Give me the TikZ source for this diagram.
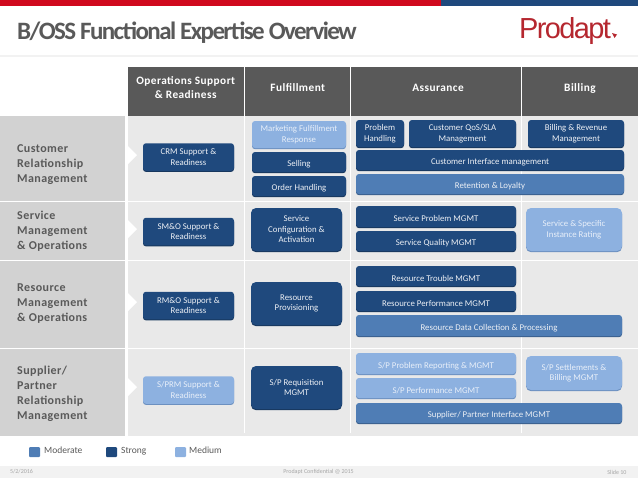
\documentclass[tikz,border=0pt]{standalone}
\usepackage{fontspec}
\setmainfont{Carlito}
\newfontfamily\logofont{Liberation Sans}
\usetikzlibrary{shadows}
\definecolor{headgray}{HTML}{595959}
\definecolor{sidegray}{HTML}{D2D2D2}
\definecolor{panelgray}{HTML}{E9E9E9}
\definecolor{strongblue}{HTML}{1F497D}
\definecolor{strongedge}{HTML}{17375E}
\definecolor{moderateblue}{HTML}{4F7DB5}
\definecolor{moderateedge}{HTML}{3A5F8C}
\definecolor{mediumblue}{HTML}{8DB1E0}
\definecolor{mediumedge}{HTML}{6C90C0}
\definecolor{logored}{HTML}{B5272F}
\definecolor{barred}{HTML}{D0091E}
\tikzset{
  boxbase/.style={shape=rectangle,rounded corners=3pt,align=center,inner sep=0pt,
    font=\fontsize{8.8}{10.5}\selectfont,text=white!92!strongblue,
    execute at begin node={\rule{0pt}{11pt}}},
  strongbox/.style={boxbase,fill=strongblue,
    copy shadow={shadow xshift=0pt,shadow yshift=-1.2pt,fill=strongedge,draw=none}},
  moderatebox/.style={boxbase,fill=moderateblue,
    copy shadow={shadow xshift=0pt,shadow yshift=-1.2pt,fill=moderateedge,draw=none}},
  mediumbox/.style={boxbase,fill=mediumblue,text=white!80!mediumblue,
    copy shadow={shadow xshift=0pt,shadow yshift=-1.2pt,fill=mediumedge,draw=none}},
  headlabel/.style={text=white,align=center,inner sep=0pt,
    font=\fontsize{11.3}{14.8}\selectfont\bfseries\addfontfeature{LetterSpace=4}},
  sidelabel/.style={anchor=west,align=left,inner sep=0pt,text=headgray,
    font=\fontsize{12}{15}\selectfont\bfseries\addfontfeature{LetterSpace=3.5}},
  legendswatch/.style={shape=rectangle,rounded corners=1pt,minimum width=11pt,minimum height=10pt,inner sep=0pt},
  legendlabel/.style={anchor=base west,inner sep=0pt,text=headgray,font=\fontsize{9.5}{11}\selectfont},
  footlabel/.style={inner sep=0pt,text=gray!70,font=\fontsize{6}{7}\selectfont}
}

\begin{document}
\begin{tikzpicture}[x=1pt,y=-1pt]
    \useasboundingbox (0,0) rectangle (638,479);

    % top bar and title
    \fill[barred] (0,0) rectangle (441,6);
    \fill[strongblue] (441,0) rectangle (638,6);
    \fill[gray!10] (0,55) rectangle (638,57);
    \node[anchor=base west,inner sep=0pt,text=headgray,font=\fontsize{25}{30}\selectfont\bfseries\addfontfeature{LetterSpace=-6.4}] (title) at (17,39) {B/OSS Functional Expertise Overview};

    % logo
    \node[anchor=base west,inner sep=0pt,text=logored,font=\fontsize{29}{29}\logofont\addfontfeature{LetterSpace=-5.6}] (logo) at (519,38.3) {Prodapt};
    \fill[logored] (612,33) -- (617,34.5) -- (614.5,38) -- cycle;

    % panels
    \fill[sidegray] (0,116) rectangle (125,436);
    \fill[panelgray] (128,116) rectangle (638,436);
    \foreach \ypos in {201,260,348}
      \draw[white,thick] (0,\ypos) -- (638,\ypos);
    \foreach \xpos in {244.5,350.5,521.5}
      \draw[white,thick] (\xpos,116) -- (\xpos,433);
    \foreach \ypos in {155,229,302,387} {
      \fill[white] (125,\ypos-12) -- (137,\ypos) -- (125,\ypos+12) -- cycle;
    }

    % column heads
    \fill[headgray] (127.5,67) rectangle (244,116);
    \fill[headgray] (245,67) rectangle (350,116);
    \fill[headgray] (351,67) rectangle (521,116);
    \fill[headgray] (522,67) rectangle (638,116);
    \node[headlabel] (opshead) at (185.75,87.5) {Operations Support\\\& Readiness};
    \node[headlabel,anchor=base] (fulfilhead) at (297.75,91) {Fulfillment};
    \node[headlabel,anchor=base] (assurehead) at (438,91) {Assurance};
    \node[headlabel,anchor=base] (billhead) at (580,91) {Billing};

    % row labels
    \node[sidelabel] (custrow) at (17,165) {Customer\\Relationship\\Management};
    \node[sidelabel] (servrow) at (17,231) {Service\\Management\\\& Operations};
    \node[sidelabel] (resrow) at (17,304) {Resource\\Management\\\& Operations};
    \node[sidelabel] (supprow) at (17,394) {Supplier/\\Partner\\Relationship\\Management};

    % operations support column
    \node[strongbox,minimum width=91,minimum height=27.5] (crm) at (188.5,157) {CRM Support \&\\Readiness};
    \node[strongbox,minimum width=91,minimum height=27.5] (smo) at (188.5,231.5) {SM\&O Support \&\\Readiness};
    \node[strongbox,minimum width=91,minimum height=27.5] (rmo) at (188.5,305.5) {RM\&O Support \&\\Readiness};
    \node[mediumbox,minimum width=91,minimum height=27.5] (sprm) at (188.5,390) {S/PRM Support \&\\Readiness};

    % fulfillment column
    \node[mediumbox,minimum width=94,minimum height=27] (mktg) at (299,134.5) {Marketing Fulfillment\\Response};
    \node[strongbox,minimum width=94,minimum height=20] (selling) at (299,162) {Selling};
    \node[strongbox,minimum width=94,minimum height=20] (order) at (299,186) {Order Handling};
    \node[strongbox,minimum width=91,minimum height=43,rounded corners=5pt] (config) at (296.5,229.5) {Service\\Configuration \&\\Activation};
    \node[strongbox,minimum width=91,minimum height=43,rounded corners=5pt] (prov) at (296.5,303.5) {Resource\\Provisioning};
    \node[strongbox,minimum width=91,minimum height=43,rounded corners=5pt] (requis) at (296.5,387.5) {S/P Requisition\\MGMT};

    % assurance and billing columns
    \node[strongbox,minimum width=48,minimum height=27] (problem) at (380,133.5) {Problem\\Handling};
    \node[strongbox,minimum width=107,minimum height=27] (qos) at (462.5,133.5) {Customer QoS/SLA\\Management};
    \node[strongbox,minimum width=96,minimum height=27] (revenue) at (576,133.5) {Billing \& Revenue\\Management};
    \node[strongbox,minimum width=268,minimum height=20] (custif) at (490,160) {Customer Interface management};
    \node[moderatebox,minimum width=268,minimum height=20] (retention) at (490,184) {Retention \& Loyalty};
    \node[strongbox,minimum width=160,minimum height=21] (servprob) at (436,216.5) {Service Problem MGMT};
    \node[strongbox,minimum width=160,minimum height=20] (servqual) at (436,241) {Service Quality MGMT};
    \node[mediumbox,minimum width=96,minimum height=43,rounded corners=5pt] (rating) at (574,229.5) {Service \& Specific\\Instance Rating};
    \node[strongbox,minimum width=160,minimum height=20] (restrouble) at (436,276) {Resource Trouble MGMT};
    \node[strongbox,minimum width=160,minimum height=20] (resperf) at (436,301) {Resource Performance MGMT};
    \node[moderatebox,minimum width=266,minimum height=21] (resdata) at (489,325.5) {Resource Data Collection \& Processing};
    \node[mediumbox,minimum width=160,minimum height=21] (spprob) at (436,363.5) {S/P Problem Reporting \& MGMT};
    \node[mediumbox,minimum width=160,minimum height=20] (spperf) at (436,388) {S/P Performance MGMT};
    \node[mediumbox,minimum width=96,minimum height=34,rounded corners=5pt] (settle) at (574,373) {S/P Settlements \&\\Billing MGMT};
    \node[moderatebox,minimum width=266,minimum height=20] (suppif) at (489,413) {Supplier/ Partner Interface MGMT};

    % legend
    \node[legendswatch,fill=moderateblue] (modswatch) at (34.5,452) {};
    \node[legendlabel] (modtext) at (44,453.5) {Moderate};
    \node[legendswatch,fill=strongblue] (strongswatch) at (111.5,452) {};
    \node[legendlabel] (strongtext) at (121,453.5) {Strong};
    \node[legendswatch,fill=mediumblue] (medswatch) at (180.5,452) {};
    \node[legendlabel] (medtext) at (189,453.5) {Medium};

    % footer
    \fill[gray!10] (0,466) rectangle (638,478);
    \node[footlabel] (footdate) at (21.5,472) {5/2/2016};
    \node[footlabel] (footconf) at (318.5,472) {Prodapt Confidential @ 2015};
    \node[footlabel] (footslide) at (617,472) {Slide 10};
  \end{tikzpicture}
\end{document}
